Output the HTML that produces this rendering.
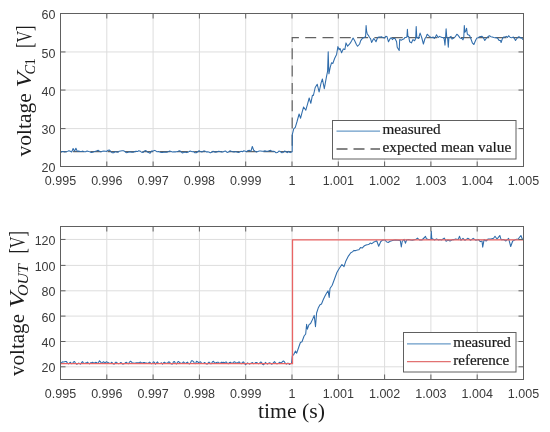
<!DOCTYPE html><html><head><meta charset="utf-8"><style>
html,body{margin:0;padding:0;background:#fff;width:550px;height:432px;overflow:hidden}
svg{display:block}
.tk{font-family:"Liberation Sans",Arial,sans-serif;font-size:12.5px;fill:#3a3a3a}
.lb{font-family:"Liberation Serif","Times New Roman",serif;font-size:21px;fill:#1c1c1c}
.lg{font-family:"Liberation Serif","Times New Roman",serif;font-size:15px;fill:#1a1a1a;stroke:#1a1a1a;stroke-width:0.2px}
</style></head><body>
<svg width="550" height="432" viewBox="0 0 550 432">
<rect width="550" height="432" fill="#fff"/>
<line x1="106.8" y1="13.5" x2="106.8" y2="166.5" stroke="#dddddd" stroke-width="1"/>
<line x1="153.1" y1="13.5" x2="153.1" y2="166.5" stroke="#dddddd" stroke-width="1"/>
<line x1="199.4" y1="13.5" x2="199.4" y2="166.5" stroke="#dddddd" stroke-width="1"/>
<line x1="245.7" y1="13.5" x2="245.7" y2="166.5" stroke="#dddddd" stroke-width="1"/>
<line x1="292.0" y1="13.5" x2="292.0" y2="166.5" stroke="#dddddd" stroke-width="1"/>
<line x1="338.3" y1="13.5" x2="338.3" y2="166.5" stroke="#dddddd" stroke-width="1"/>
<line x1="384.6" y1="13.5" x2="384.6" y2="166.5" stroke="#dddddd" stroke-width="1"/>
<line x1="430.9" y1="13.5" x2="430.9" y2="166.5" stroke="#dddddd" stroke-width="1"/>
<line x1="477.2" y1="13.5" x2="477.2" y2="166.5" stroke="#dddddd" stroke-width="1"/>
<line x1="60.5" y1="128.6" x2="523.5" y2="128.6" stroke="#dddddd" stroke-width="1"/>
<line x1="60.5" y1="90.05" x2="523.5" y2="90.05" stroke="#dddddd" stroke-width="1"/>
<line x1="60.5" y1="51.95" x2="523.5" y2="51.95" stroke="#dddddd" stroke-width="1"/>
<path d="M60.5 151.6 L292.2 151.6 L292.2 37.7 L523.5 37.7" fill="none" stroke="#626262" stroke-width="1.2" stroke-dasharray="11 6.3" stroke-dashoffset="4.7"/>
<path d="M60.5 152.56 L61.9 151.48 L63.3 151.41 L64.7 151.94 L66.1 151.8 L67.5 151.39 L68.9 150.75 L70.3 151.3 L71.7 151.93 L73.1 148.5 L74.5 151.16 L75.9 148.2 L77.3 151.38 L78.7 151.05 L80.1 151.45 L81.5 151.43 L82.9 151.12 L84.3 151.76 L85.7 151.76 L87.1 150.92 L88.5 151.53 L89.9 151.68 L91.3 152.41 L92.7 152.34 L94.1 151.44 L95.5 151.35 L96.9 150.83 L98.3 150.27 L99.7 151.5 L101.1 151.75 L102.5 151.2 L103.9 151.12 L105.3 151.25 L106.7 151.37 L108.1 150.22 L109.5 150.1 L110.9 151.68 L112.3 152.84 L113.7 152.77 L115.1 151.55 L116.5 152.03 L117.9 152.21 L119.3 151.15 L120.7 150.9 L122.1 150.78 L123.5 150.83 L124.9 151.48 L126.3 152.67 L127.7 152.59 L129.1 151.67 L130.5 151.89 L131.9 152.16 L133.3 152.24 L134.7 151.56 L136.1 151.2 L137.5 151.58 L138.9 150.64 L140.3 151.17 L141.7 152.34 L143.1 152.46 L144.5 150.96 L145.9 150.53 L147.3 151.94 L148.7 152.43 L150.1 153.2 L151.5 151.04 L152.9 151.13 L154.3 150.38 L155.7 150.83 L157.1 151.84 L158.5 151.51 L159.9 152.01 L161.3 152.37 L162.7 152.49 L164.1 152.11 L165.5 152.22 L166.9 152.34 L168.3 151.65 L169.7 150.96 L171.1 151.42 L172.5 151.98 L173.9 151.77 L175.3 151.88 L176.7 151.71 L178.1 151.35 L179.5 150.75 L180.9 151.52 L182.3 152.94 L183.7 152.55 L185.1 151.93 L186.5 152.62 L187.9 152.18 L189.3 151.36 L190.7 151.14 L192.1 151.77 L193.5 151.52 L194.9 152.81 L196.3 152.74 L197.7 151.74 L199.1 150.74 L200.5 151.59 L201.9 152.02 L203.3 151.08 L204.7 150.9 L206.1 151.87 L207.5 151.66 L208.9 151.99 L210.3 152.85 L211.7 152.32 L213.1 151.27 L214.5 151.92 L215.9 152.13 L217.3 151.83 L218.7 151.32 L220.1 151.48 L221.5 151.88 L222.9 151.9 L224.3 151.31 L225.7 151.11 L227.1 152.44 L228.5 151.99 L229.9 150.81 L231.3 151.36 L232.7 151.84 L234.1 152.1 L235.5 151.55 L236.9 152.04 L238.3 152.38 L239.7 151.92 L241.1 151.35 L242.5 151.79 L243.9 150.76 L245.3 151.16 L246.7 151.66 L248.1 150.45 L249.5 150.34 L250.9 151.4 L252.3 146.5 L253.7 150.2 L255.1 151.13 L256.5 151.98 L257.9 151.47 L259.3 151.05 L260.7 151 L262.1 151.19 L263.5 151.2 L264.9 150.87 L266.3 151.18 L267.7 151.39 L269.1 150.78 L270.5 150.37 L271.9 151.24 L273.3 151.19 L274.7 151.61 L276.1 152.74 L277.5 152.58 L278.9 151 L280.3 151.51 L281.7 152.65 L283.1 152.43 L284.5 151.08 L285.9 151.49 L287.3 152.62 L288.7 151.37 L290.1 152.6 L292.2 151.8 L292.3 134.7 L293.7 128.9 L295.3 127.3 L296.9 122 L299.1 114 L300.6 118.2 L302.2 111.8 L303.6 107 L305.8 110.2 L307.6 103.8 L309.2 98 L310.8 103.3 L312.4 95.3 L313.4 95.5 L315.2 87.5 L317.2 84.2 L319.1 92 L321.1 82.9 L322.4 79 L324.3 88.7 L326.3 77.7 L327.6 71.2 L328.2 51.8 L328.9 73.8 L330.2 67.3 L331.5 62.8 L332.8 63.5 L334.7 58.3 L336.6 54.4 L337.9 46.6 L339.2 49.7 L340 48.4 L341.6 52.7 L343.3 48.9 L344.9 49.5 L346 42.9 L347.6 46.2 L349 44.72 L350.4 42.9 L351.75 40.58 L353.1 38 L354.7 40.7 L356.4 44.5 L357.5 46.2 L358.55 45.27 L359.6 44 L360.7 40.66 L361.8 39.1 L363.15 37.93 L364.5 37.5 L365.6 36.5 L366.1 25.5 L366.6 31 L367.3 34 L368.4 35.3 L369.5 37.5 L370.55 38.56 L371.6 42.4 L372.7 40.38 L373.8 38.5 L374.9 39.95 L376 41.8 L377.6 37.5 L379 37.04 L380.4 36.9 L381.45 36.77 L382.5 37.5 L383.6 37.8 L384.7 38 L385.8 36.31 L386.9 36.4 L388.5 41.8 L390.2 38.5 L391.3 37.69 L392.4 39.6 L393.7 38.21 L395 38.5 L396.6 41.8 L397.2 47.3 L398.6 49.5 L399.2 50.5 L399.7 39.6 L401.5 40.2 L402.6 39.39 L403.7 39.1 L404.8 37.59 L405.9 37.5 L406.9 37 L407.4 29.3 L407.9 36.4 L408.6 36.4 L409.7 41.8 L411.4 42.9 L413 39.6 L414.6 40.7 L415.7 38.5 L416.2 26.5 L416.8 37.5 L417.4 37.5 L418.5 38.5 L420.1 33.1 L421.7 37.5 L423.4 44 L425 38.5 L426.1 36.95 L427.2 34.2 L428.3 35.36 L429.4 36.4 L430.75 37.18 L432.1 37.5 L433.2 36.99 L434.3 38.5 L435.4 37.13 L436.5 34.7 L438.1 37.5 L439.7 36.4 L440.8 37.09 L441.9 37.5 L443 37.5 L444.1 38.5 L445 45.1 L445.6 37 L446.1 28.7 L446.7 36.4 L447.6 38 L448.3 47.3 L448.9 37.5 L449.5 37.5 L450 37 L451 36.37 L452 39.1 L453.05 38.56 L454.1 37.7 L455.45 36.55 L456.8 34.3 L457.85 35.02 L458.9 36.4 L459.9 37.84 L460.9 38.4 L461.95 38.5 L463 39.8 L463.8 37 L464.3 25.5 L464.9 32.3 L465.8 31 L466.6 28.2 L467.3 34 L468.4 35 L469.45 35.25 L470.5 37.7 L471.5 40.49 L472.5 43.2 L473.9 44.5 L474.9 42.03 L475.9 39.8 L476.95 37.93 L478 37.7 L479.35 36.82 L480.7 36.4 L482.05 36.27 L483.4 37.7 L484.8 40.5 L485.8 38.99 L486.8 37.7 L488.15 36.54 L489.5 35.7 L490.9 36.65 L492.3 37 L493.65 37.43 L495 37.7 L496.35 37.53 L497.7 38.4 L499.1 40.37 L500.5 40.5 L501.1 42.5 L502.5 38.4 L503.85 36.96 L505.2 37 L506.33 36.39 L507.47 37.42 L508.6 35.7 L510 37.27 L511.4 37.7 L512.4 37.55 L513.4 37 L514.45 38.42 L515.5 40.5 L516.5 39.05 L517.5 37.7 L518.5 36.8 L519.5 37 L520.55 37.96 L521.6 37.7 L523 39.8" fill="none" stroke="#2f6cab" stroke-width="1.05" stroke-linejoin="round"/>
<rect x="60.5" y="13.5" width="463.0" height="153.0" fill="none" stroke="#606060" stroke-width="1"/>
<line x1="60.5" y1="166.5" x2="60.5" y2="161.5" stroke="#606060"/>
<line x1="60.5" y1="13.5" x2="60.5" y2="18.5" stroke="#606060"/>
<line x1="106.8" y1="166.5" x2="106.8" y2="161.5" stroke="#606060"/>
<line x1="106.8" y1="13.5" x2="106.8" y2="18.5" stroke="#606060"/>
<line x1="153.1" y1="166.5" x2="153.1" y2="161.5" stroke="#606060"/>
<line x1="153.1" y1="13.5" x2="153.1" y2="18.5" stroke="#606060"/>
<line x1="199.4" y1="166.5" x2="199.4" y2="161.5" stroke="#606060"/>
<line x1="199.4" y1="13.5" x2="199.4" y2="18.5" stroke="#606060"/>
<line x1="245.7" y1="166.5" x2="245.7" y2="161.5" stroke="#606060"/>
<line x1="245.7" y1="13.5" x2="245.7" y2="18.5" stroke="#606060"/>
<line x1="292.0" y1="166.5" x2="292.0" y2="161.5" stroke="#606060"/>
<line x1="292.0" y1="13.5" x2="292.0" y2="18.5" stroke="#606060"/>
<line x1="338.3" y1="166.5" x2="338.3" y2="161.5" stroke="#606060"/>
<line x1="338.3" y1="13.5" x2="338.3" y2="18.5" stroke="#606060"/>
<line x1="384.6" y1="166.5" x2="384.6" y2="161.5" stroke="#606060"/>
<line x1="384.6" y1="13.5" x2="384.6" y2="18.5" stroke="#606060"/>
<line x1="430.9" y1="166.5" x2="430.9" y2="161.5" stroke="#606060"/>
<line x1="430.9" y1="13.5" x2="430.9" y2="18.5" stroke="#606060"/>
<line x1="477.2" y1="166.5" x2="477.2" y2="161.5" stroke="#606060"/>
<line x1="477.2" y1="13.5" x2="477.2" y2="18.5" stroke="#606060"/>
<line x1="523.5" y1="166.5" x2="523.5" y2="161.5" stroke="#606060"/>
<line x1="523.5" y1="13.5" x2="523.5" y2="18.5" stroke="#606060"/>
<line x1="60.5" y1="166.5" x2="65.5" y2="166.5" stroke="#606060"/>
<line x1="523.5" y1="166.5" x2="518.5" y2="166.5" stroke="#606060"/>
<line x1="60.5" y1="128.6" x2="65.5" y2="128.6" stroke="#606060"/>
<line x1="523.5" y1="128.6" x2="518.5" y2="128.6" stroke="#606060"/>
<line x1="60.5" y1="90.05" x2="65.5" y2="90.05" stroke="#606060"/>
<line x1="523.5" y1="90.05" x2="518.5" y2="90.05" stroke="#606060"/>
<line x1="60.5" y1="51.95" x2="65.5" y2="51.95" stroke="#606060"/>
<line x1="523.5" y1="51.95" x2="518.5" y2="51.95" stroke="#606060"/>
<line x1="60.5" y1="13.5" x2="65.5" y2="13.5" stroke="#606060"/>
<line x1="523.5" y1="13.5" x2="518.5" y2="13.5" stroke="#606060"/>
<text x="60.5" y="184.9" class="tk" text-anchor="middle">0.995</text>
<text x="106.8" y="184.9" class="tk" text-anchor="middle">0.996</text>
<text x="153.1" y="184.9" class="tk" text-anchor="middle">0.997</text>
<text x="199.4" y="184.9" class="tk" text-anchor="middle">0.998</text>
<text x="245.7" y="184.9" class="tk" text-anchor="middle">0.999</text>
<text x="292" y="184.9" class="tk" text-anchor="middle">1</text>
<text x="338.3" y="184.9" class="tk" text-anchor="middle">1.001</text>
<text x="384.6" y="184.9" class="tk" text-anchor="middle">1.002</text>
<text x="430.9" y="184.9" class="tk" text-anchor="middle">1.003</text>
<text x="477.2" y="184.9" class="tk" text-anchor="middle">1.004</text>
<text x="523.5" y="184.9" class="tk" text-anchor="middle">1.005</text>
<text x="55.5" y="172.1" class="tk" text-anchor="end">20</text>
<text x="55.5" y="134.2" class="tk" text-anchor="end">30</text>
<text x="55.5" y="95.65" class="tk" text-anchor="end">40</text>
<text x="55.5" y="57.55" class="tk" text-anchor="end">50</text>
<text x="55.5" y="19.1" class="tk" text-anchor="end">60</text>
<rect x="332.5" y="120.5" width="183.5" height="38.5" fill="#fff" stroke="#606060" stroke-width="1"/>
<line x1="336.5" y1="131.2" x2="380" y2="131.2" stroke="#6a9bc8" stroke-width="1.3"/>
<line x1="336.5" y1="149" x2="380" y2="149" stroke="#5e5e5e" stroke-width="1.3" stroke-dasharray="11 6"/>
<text x="382.4" y="134.4" class="lg" textLength="58.2" lengthAdjust="spacingAndGlyphs">measured</text>
<text x="382.4" y="152.2" class="lg" textLength="129" lengthAdjust="spacingAndGlyphs">expected mean value</text>
<g transform="translate(31,0) rotate(-90)">
<text class="lb" x="-156.6" y="0" style="font-size:21px" textLength="63.5" lengthAdjust="spacingAndGlyphs">voltage</text>
<text class="lb" x="-87.5" y="0" style="font-size:21px" textLength="15.5" lengthAdjust="spacingAndGlyphs" font-style="italic">V</text>
<text class="lb" x="-74.5" y="4" style="font-size:14.5px" textLength="9.5" lengthAdjust="spacingAndGlyphs" font-style="italic">C</text>
<text class="lb" x="-65.5" y="4" style="font-size:14.5px" textLength="7.5" lengthAdjust="spacingAndGlyphs">1</text>
<text class="lb" x="-48" y="0" style="font-size:21px" textLength="22.5" lengthAdjust="spacingAndGlyphs" transform="translate(0,0.9) scale(1,1.1)">[V]</text>
</g>
<line x1="106.8" y1="226.5" x2="106.8" y2="379.5" stroke="#dddddd" stroke-width="1"/>
<line x1="153.1" y1="226.5" x2="153.1" y2="379.5" stroke="#dddddd" stroke-width="1"/>
<line x1="199.4" y1="226.5" x2="199.4" y2="379.5" stroke="#dddddd" stroke-width="1"/>
<line x1="245.7" y1="226.5" x2="245.7" y2="379.5" stroke="#dddddd" stroke-width="1"/>
<line x1="292.0" y1="226.5" x2="292.0" y2="379.5" stroke="#dddddd" stroke-width="1"/>
<line x1="338.3" y1="226.5" x2="338.3" y2="379.5" stroke="#dddddd" stroke-width="1"/>
<line x1="384.6" y1="226.5" x2="384.6" y2="379.5" stroke="#dddddd" stroke-width="1"/>
<line x1="430.9" y1="226.5" x2="430.9" y2="379.5" stroke="#dddddd" stroke-width="1"/>
<line x1="477.2" y1="226.5" x2="477.2" y2="379.5" stroke="#dddddd" stroke-width="1"/>
<line x1="60.5" y1="366.8" x2="523.5" y2="366.8" stroke="#dddddd" stroke-width="1"/>
<line x1="60.5" y1="341.5" x2="523.5" y2="341.5" stroke="#dddddd" stroke-width="1"/>
<line x1="60.5" y1="316.1" x2="523.5" y2="316.1" stroke="#dddddd" stroke-width="1"/>
<line x1="60.5" y1="290.8" x2="523.5" y2="290.8" stroke="#dddddd" stroke-width="1"/>
<line x1="60.5" y1="265.4" x2="523.5" y2="265.4" stroke="#dddddd" stroke-width="1"/>
<line x1="60.5" y1="239.45" x2="523.5" y2="239.45" stroke="#dddddd" stroke-width="1"/>
<path d="M60.5 364.08 L61.5 362.73 L62.5 361.89 L63.5 361.9 L64.5 361.82 L65.5 361.43 L66.5 361.6 L67.5 363.1 L68.5 363.88 L69.5 362.85 L70.5 362.3 L71.5 363.72 L72.5 363.52 L73.5 362.05 L74.5 361.54 L75.5 362.99 L76.5 364.13 L77.5 364 L78.5 363.02 L79.5 363.56 L80.5 364.15 L81.5 362.67 L82.5 361.65 L83.5 363.13 L84.5 363.57 L85.5 363.04 L86.5 362.85 L87.5 362.14 L88.5 363.32 L89.5 363.89 L90.5 362.85 L91.5 362.64 L92.5 362.23 L93.5 362.75 L94.5 363.03 L95.5 362.3 L96.5 362.47 L97.5 363.55 L98.5 362.61 L99.5 360.8 L100.5 361.93 L101.5 363.1 L102.5 362.65 L103.5 361.69 L104.5 362.71 L105.5 362.7 L106.5 361.7 L107.5 362.36 L108.5 362.73 L109.5 363.25 L110.5 363.48 L111.5 362.25 L112.5 363.02 L113.5 364.05 L114.5 363.86 L115.5 362.3 L116.5 362.28 L117.5 363.35 L118.5 363.69 L119.5 363.59 L120.5 362.61 L121.5 362.77 L122.5 364.08 L123.5 364.03 L124.5 363.57 L125.5 362.5 L126.5 362.36 L127.5 363.46 L128.5 363.74 L129.5 362.04 L130.5 361.25 L131.5 361.91 L132.5 363.32 L133.5 363.04 L134.5 363.28 L135.5 362.95 L136.5 362.7 L137.5 362.89 L138.5 362.72 L139.5 362.49 L140.5 362.02 L141.5 362.97 L142.5 362.92 L143.5 362.53 L144.5 362.6 L145.5 362.97 L146.5 362.98 L147.5 363.47 L148.5 362.91 L149.5 362.12 L150.5 362.91 L151.5 363.8 L152.5 363.25 L153.5 361.71 L154.5 362.61 L155.5 364.14 L156.5 362.96 L157.5 361.93 L158.5 363.39 L159.5 363.49 L160.5 363.22 L161.5 362.8 L162.5 364.1 L163.5 362.79 L164.5 362.19 L165.5 362.85 L166.5 363.35 L167.5 363.02 L168.5 361.89 L169.5 362.13 L170.5 363.23 L171.5 364.06 L172.5 363.94 L173.5 361.72 L174.5 361.58 L175.5 363.43 L176.5 364.06 L177.5 362.15 L178.5 361.46 L179.5 362.5 L180.5 363 L181.5 363.41 L182.5 362.96 L183.5 361.78 L184.5 362.98 L185.5 363.54 L186.5 362.76 L187.5 362.13 L188.5 363.62 L189.5 363.97 L190.5 362.82 L191.5 360.83 L192.5 360.8 L193.5 361.61 L194.5 363.59 L195.5 363.62 L196.5 361.21 L197.5 361.72 L198.5 362.61 L199.5 362.14 L200.5 361.74 L201.5 363.11 L202.5 363.44 L203.5 363.33 L204.5 362.46 L205.5 363.22 L206.5 364.02 L207.5 363.93 L208.5 362.31 L209.5 362.3 L210.5 363.76 L211.5 363.61 L212.5 361.65 L213.5 361.3 L214.5 362.86 L215.5 362.99 L216.5 362.42 L217.5 362.25 L218.5 362.25 L219.5 363.31 L220.5 362.88 L221.5 362.14 L222.5 362.51 L223.5 362.23 L224.5 362.62 L225.5 362.12 L226.5 362.12 L227.5 363.46 L228.5 363.65 L229.5 362.41 L230.5 362.17 L231.5 363.39 L232.5 363.3 L233.5 362.19 L234.5 361.71 L235.5 362.38 L236.5 362.95 L237.5 362.8 L238.5 362.12 L239.5 362.13 L240.5 363.57 L241.5 363.63 L242.5 362.26 L243.5 361.9 L244.5 363.39 L245.5 364.74 L246.5 363.78 L247.5 362.83 L248.5 363.42 L249.5 364.18 L250.5 363.51 L251.5 363.02 L252.5 362.53 L253.5 363.65 L254.5 363.6 L255.5 362.63 L256.5 362.56 L257.5 363.07 L258.5 363.81 L259.5 363.22 L260.5 362.04 L261.5 362.22 L262.5 364.19 L263.5 364.79 L264.5 363.72 L265.5 362.34 L266.5 363.54 L267.5 364.13 L268.5 363.32 L269.5 362.83 L270.5 363.27 L271.5 364.14 L272.5 363.82 L273.5 362.62 L274.5 361.66 L275.5 362.92 L276.5 363.81 L277.5 363.68 L278.5 363.21 L279.5 362.32 L280.5 362.75 L281.5 362.88 L282.5 361.48 L283.5 361.01 L284.5 361.9 L285.5 363.61 L286.5 364.14 L287.5 363.17 L288.5 363.31 L289.5 364.52 L290.5 363.59 L291.5 363.2 L292.3 355.9 L293.9 354.3 L295.5 351 L296.7 353.2 L298.8 347 L300.4 342.5 L302 341.8 L304.1 336 L305.7 334 L306.6 324.3 L307.4 329.2 L309 324.6 L310.6 323.5 L312.9 318.6 L314.2 315.4 L315.5 326.7 L316.6 313 L318.2 308.1 L320 304.7 L321.5 304 L323.2 299.8 L324.85 296.2 L326.5 293.3 L328.1 290.9 L329.2 297.4 L330 288.5 L332.2 285.2 L334.6 278.8 L337 272.3 L339.4 268.2 L341.9 264.5 L344 266.6 L345.9 260.9 L348.4 256.1 L350.8 252.8 L352.4 251.85 L354 250.4 L355.65 250.64 L357.3 249.9 L358.9 249.76 L360.5 247.6 L362.15 248.05 L363.8 246.3 L365.4 245.25 L367 244.7 L368.6 244.52 L370.2 243.1 L371.85 243.72 L373.5 242.3 L375.1 241.57 L376.7 240.7 L378.7 246.3 L380.8 241.5 L382.4 240.22 L384 239.9 L385 240 L386.6 241.87 L388.2 242.5 L390.1 241.3 L392.6 240.6 L395.2 240 L397.7 240.3 L400.3 240.6 L401.3 247 L402.2 241.3 L404.1 239.4 L405.4 243.2 L406.6 240 L408.55 239.41 L410.5 240 L412.4 240.31 L414.3 239.7 L415.9 239.41 L417.5 238.1 L419.4 240 L421.9 240 L424.5 237.5 L425.4 236.3 L426.4 238.7 L428.3 239.4 L430.9 239.2 L431.3 231.3 L431.8 239.2 L432.3 238.7 L434.6 240 L436.55 238.87 L438.5 240 L440.05 239.53 L441.6 240 L444.2 238.1 L446.1 241.3 L448 240 L450 241 L452.7 239.6 L454.1 239.63 L455.5 239 L458.2 239.6 L459.5 236.2 L460.9 240.3 L463 238.3 L465 240.3 L467.7 238.3 L469.1 239.06 L470.5 240.3 L473.2 238.3 L475.9 240.3 L478.6 239.6 L480.3 241.62 L482 241 L482.7 247.1 L484.1 239.6 L486.1 241 L488.2 239 L490.9 239 L493.6 238.3 L495 236.2 L497 239 L498.4 237.34 L499.8 235.5 L501.1 239.6 L503.9 239.6 L505.9 241 L508.6 238.3 L510.7 246.5 L512.7 241 L515.5 239.6 L518.2 239 L520.9 235.5 L522.3 239 L523.5 239.5" fill="none" stroke="#2f6cab" stroke-width="1.05" stroke-linejoin="round"/>
<path d="M60.5 363.7 L292.5 363.7 L292.5 239.8 L523.5 239.8" fill="none" stroke="#e96464" stroke-width="1.3"/>
<rect x="60.5" y="226.5" width="463.0" height="153.0" fill="none" stroke="#606060" stroke-width="1"/>
<line x1="60.5" y1="379.5" x2="60.5" y2="374.5" stroke="#606060"/>
<line x1="60.5" y1="226.5" x2="60.5" y2="231.5" stroke="#606060"/>
<line x1="106.8" y1="379.5" x2="106.8" y2="374.5" stroke="#606060"/>
<line x1="106.8" y1="226.5" x2="106.8" y2="231.5" stroke="#606060"/>
<line x1="153.1" y1="379.5" x2="153.1" y2="374.5" stroke="#606060"/>
<line x1="153.1" y1="226.5" x2="153.1" y2="231.5" stroke="#606060"/>
<line x1="199.4" y1="379.5" x2="199.4" y2="374.5" stroke="#606060"/>
<line x1="199.4" y1="226.5" x2="199.4" y2="231.5" stroke="#606060"/>
<line x1="245.7" y1="379.5" x2="245.7" y2="374.5" stroke="#606060"/>
<line x1="245.7" y1="226.5" x2="245.7" y2="231.5" stroke="#606060"/>
<line x1="292.0" y1="379.5" x2="292.0" y2="374.5" stroke="#606060"/>
<line x1="292.0" y1="226.5" x2="292.0" y2="231.5" stroke="#606060"/>
<line x1="338.3" y1="379.5" x2="338.3" y2="374.5" stroke="#606060"/>
<line x1="338.3" y1="226.5" x2="338.3" y2="231.5" stroke="#606060"/>
<line x1="384.6" y1="379.5" x2="384.6" y2="374.5" stroke="#606060"/>
<line x1="384.6" y1="226.5" x2="384.6" y2="231.5" stroke="#606060"/>
<line x1="430.9" y1="379.5" x2="430.9" y2="374.5" stroke="#606060"/>
<line x1="430.9" y1="226.5" x2="430.9" y2="231.5" stroke="#606060"/>
<line x1="477.2" y1="379.5" x2="477.2" y2="374.5" stroke="#606060"/>
<line x1="477.2" y1="226.5" x2="477.2" y2="231.5" stroke="#606060"/>
<line x1="523.5" y1="379.5" x2="523.5" y2="374.5" stroke="#606060"/>
<line x1="523.5" y1="226.5" x2="523.5" y2="231.5" stroke="#606060"/>
<line x1="60.5" y1="366.8" x2="65.5" y2="366.8" stroke="#606060"/>
<line x1="523.5" y1="366.8" x2="518.5" y2="366.8" stroke="#606060"/>
<line x1="60.5" y1="341.5" x2="65.5" y2="341.5" stroke="#606060"/>
<line x1="523.5" y1="341.5" x2="518.5" y2="341.5" stroke="#606060"/>
<line x1="60.5" y1="316.1" x2="65.5" y2="316.1" stroke="#606060"/>
<line x1="523.5" y1="316.1" x2="518.5" y2="316.1" stroke="#606060"/>
<line x1="60.5" y1="290.8" x2="65.5" y2="290.8" stroke="#606060"/>
<line x1="523.5" y1="290.8" x2="518.5" y2="290.8" stroke="#606060"/>
<line x1="60.5" y1="265.4" x2="65.5" y2="265.4" stroke="#606060"/>
<line x1="523.5" y1="265.4" x2="518.5" y2="265.4" stroke="#606060"/>
<line x1="60.5" y1="239.45" x2="65.5" y2="239.45" stroke="#606060"/>
<line x1="523.5" y1="239.45" x2="518.5" y2="239.45" stroke="#606060"/>
<text x="60.5" y="397.9" class="tk" text-anchor="middle">0.995</text>
<text x="106.8" y="397.9" class="tk" text-anchor="middle">0.996</text>
<text x="153.1" y="397.9" class="tk" text-anchor="middle">0.997</text>
<text x="199.4" y="397.9" class="tk" text-anchor="middle">0.998</text>
<text x="245.7" y="397.9" class="tk" text-anchor="middle">0.999</text>
<text x="292" y="397.9" class="tk" text-anchor="middle">1</text>
<text x="338.3" y="397.9" class="tk" text-anchor="middle">1.001</text>
<text x="384.6" y="397.9" class="tk" text-anchor="middle">1.002</text>
<text x="430.9" y="397.9" class="tk" text-anchor="middle">1.003</text>
<text x="477.2" y="397.9" class="tk" text-anchor="middle">1.004</text>
<text x="523.5" y="397.9" class="tk" text-anchor="middle">1.005</text>
<text x="55.5" y="372.4" class="tk" text-anchor="end">20</text>
<text x="55.5" y="347.1" class="tk" text-anchor="end">40</text>
<text x="55.5" y="321.7" class="tk" text-anchor="end">60</text>
<text x="55.5" y="296.4" class="tk" text-anchor="end">80</text>
<text x="55.5" y="271" class="tk" text-anchor="end">100</text>
<text x="55.5" y="245.05" class="tk" text-anchor="end">120</text>
<rect x="403.5" y="332.5" width="112.5" height="39.5" fill="#fff" stroke="#606060" stroke-width="1"/>
<line x1="407" y1="343.8" x2="450.8" y2="343.8" stroke="#6a9bc8" stroke-width="1.3"/>
<line x1="407" y1="361.7" x2="450.8" y2="361.7" stroke="#e27272" stroke-width="1.3"/>
<text x="453.2" y="347" class="lg" textLength="57.7" lengthAdjust="spacingAndGlyphs">measured</text>
<text x="453.2" y="364.8" class="lg" textLength="56" lengthAdjust="spacingAndGlyphs">reference</text>
<g transform="translate(24,0) rotate(-90)">
<text class="lb" x="-376" y="0" style="font-size:21px" textLength="62" lengthAdjust="spacingAndGlyphs">voltage</text>
<text class="lb" x="-308" y="0" style="font-size:21px" textLength="16" lengthAdjust="spacingAndGlyphs" font-style="italic">V</text>
<text class="lb" x="-296" y="3.5" style="font-size:14.5px" textLength="32" lengthAdjust="spacingAndGlyphs" font-style="italic">OUT</text>
<text class="lb" x="-253.6" y="0" style="font-size:21px" textLength="22.5" lengthAdjust="spacingAndGlyphs" transform="translate(0,0.6) scale(1,1.1)">[V]</text>
</g>
<text class="lb" x="258" y="418.4" style="font-size:21px" textLength="67" lengthAdjust="spacingAndGlyphs">time (s)</text>
</svg></body></html>
